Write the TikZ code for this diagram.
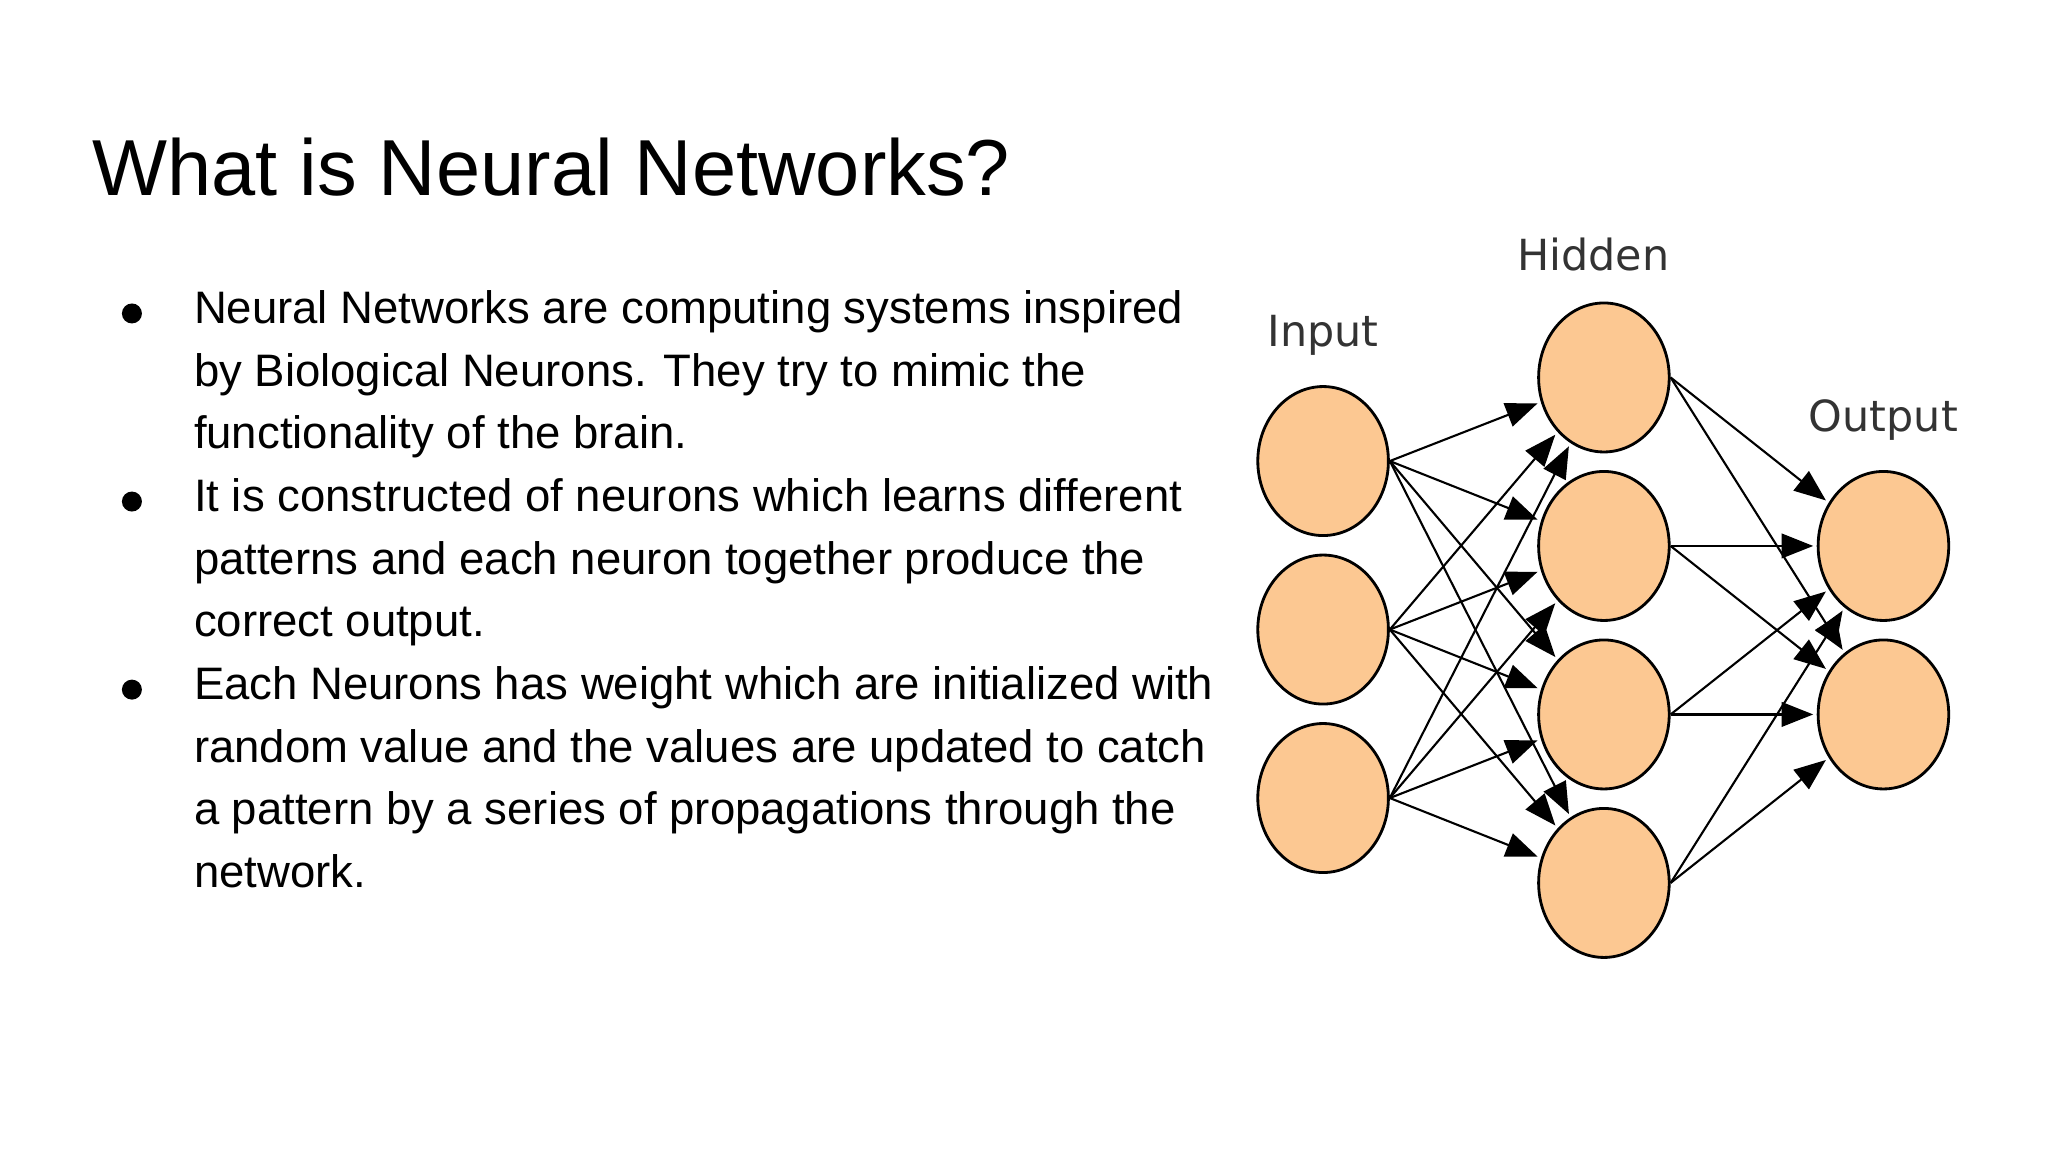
\documentclass[tikz,border=0pt]{standalone}
\usepackage{fontspec}
\setmainfont{Liberation Sans}
\newfontfamily\labelfont{DejaVu Sans}
\usetikzlibrary{shapes.geometric,arrows.meta,positioning}
\tikzset{
  neuron/.style={ellipse, draw=black, thick, fill={rgb,255:red,252;green,200;blue,146},
    minimum width=1.306cm, minimum height=1.49cm, inner sep=0pt},
  layer/.style={font=\labelfont\fontsize{12.2}{15}\selectfont, text=black!80},
  weight/.style={-{Triangle[length=9pt,width=7pt]}, semithick, shorten >=1pt},
  dot/.style={circle, fill=black, minimum size=0.2cm, inner sep=0pt},
  bullet/.style={anchor=north west, align=left, inner sep=0pt,
    font=\fontsize{12.95}{17.8}\selectfont}
}
\begin{document}
\begin{tikzpicture}[x=0.01306cm, y=-0.01306cm]
 \useasboundingbox (0,0) rectangle (1568,882);
 % title
 \node [anchor=base west, inner sep=0pt, font=\fontsize{22.6}{27}\selectfont] (title) at (70,150) {What is Neural Networks?};
 % bullets
 \node [bullet] (b1) at (148,222) {Neural Networks are computing systems inspired\\by Biological Neurons. They try to mimic the\\functionality of the brain.};
 \node [bullet] (b2) at (148,366) {It is constructed of neurons which learns different\\patterns and each neuron together produce the\\correct output.};
 \node [bullet] (b3) at (148,510) {Each Neurons has weight which are initialized with\\random value and the values are updated to catch\\a pattern by a series of propagations through the\\network.};
 \foreach \y/\n in {240/d1, 384/d2, 528/d3}
  \node [dot] (\n) at (101,\y) {};
 % network
 \node [neuron] (i1) at (1013,353) {};
 \node [neuron] (i2) at (1013,482) {};
 \node [neuron] (i3) at (1013,611) {};
 \node [neuron] (h1) at (1228,289) {};
 \node [neuron] (h2) at (1228,418) {};
 \node [neuron] (h3) at (1228,547) {};
 \node [neuron] (h4) at (1228,676) {};
 \node [neuron] (o1) at (1442,418) {};
 \node [neuron] (o2) at (1442,547) {};
 \node [layer, above=5pt of i1] (lin) {Input};
 \node [layer, above=5pt of h1, xshift=-3pt] (lhid) {Hidden};
 \node [layer, above=5pt of o1] (lout) {Output};
 \foreach \a in {i1,i2,i3}
  \foreach \b in {h1,h2,h3,h4}
   \draw [weight] (\a.east) -- (\b);
 \foreach \a in {h1,h2,h3,h4}
  \foreach \b in {o1,o2}
   \draw [weight] (\a.east) -- (\b);
\end{tikzpicture}
\end{document}
